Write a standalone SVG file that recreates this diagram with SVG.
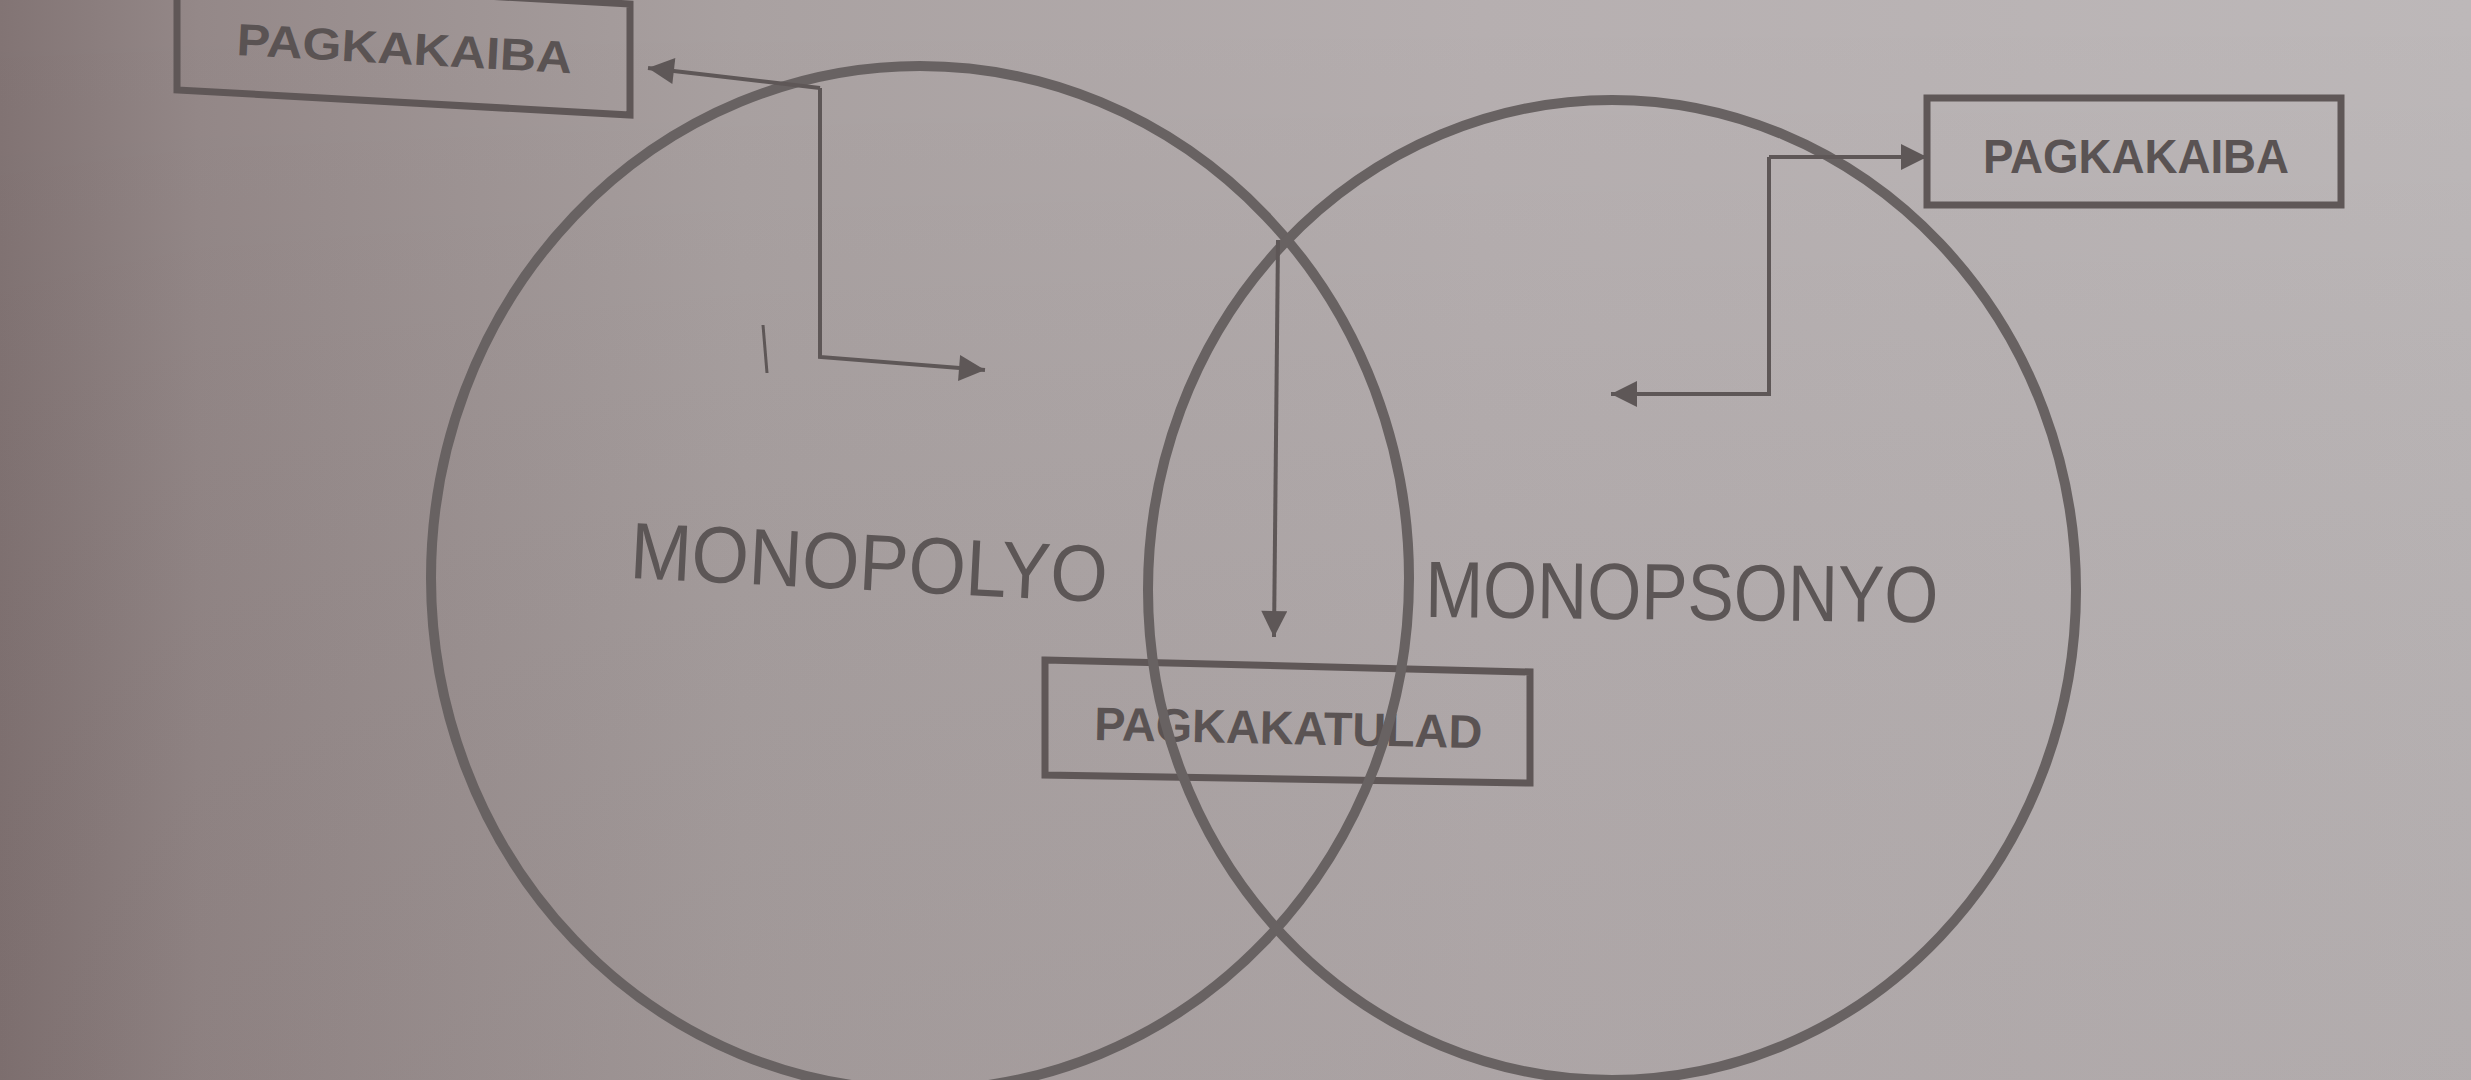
<svg xmlns="http://www.w3.org/2000/svg" width="2471" height="1080" viewBox="0 0 2471 1080">
<defs>
<linearGradient id="paper" x1="0" y1="0" x2="1" y2="0">
<stop offset="0" stop-color="#827474"/>
<stop offset="0.08" stop-color="#948888"/>
<stop offset="0.3" stop-color="#a9a1a1"/>
<stop offset="0.6" stop-color="#b6afb0"/>
<stop offset="1" stop-color="#bdb8b9"/>
</linearGradient>
<linearGradient id="shade" x1="0" y1="0" x2="0" y2="1">
<stop offset="0" stop-color="#000" stop-opacity="0"/>
<stop offset="1" stop-color="#3a2a2a" stop-opacity="0.08"/>
</linearGradient>
<marker id="arr" viewBox="0 0 10 10" refX="10" refY="5" markerWidth="28" markerHeight="26" markerUnits="userSpaceOnUse" orient="auto">
<path d="M0,0 L10,5 L0,10 z" fill="#5e5757"/>
</marker>
<style>
.box{fill:none;stroke:#5f5757;stroke-width:7;stroke-linejoin:miter}
.lbl{font-family:"Liberation Sans",Arial,sans-serif;font-weight:bold;fill:#5a5353}
.big{font-family:"Liberation Sans",Arial,sans-serif;font-weight:normal;fill:#5c5656;font-size:80px}
.ring{fill:none;stroke:#686262;stroke-width:10}
.conn{fill:none;stroke:#5e5757;stroke-width:4}
</style>
</defs>
<rect width="2471" height="1080" fill="url(#paper)"/>
<rect width="2471" height="1080" fill="url(#shade)"/>

<g id="node-pagkakaiba-left">
<path class="box" d="M177,-21 L630,4 L630,115 L177,90 Z"/>
<text class="lbl" x="236" y="55" font-size="45" textLength="336" lengthAdjust="spacingAndGlyphs" transform="rotate(3.1 236 55)">PAGKAKAIBA</text>
</g>

<g id="node-pagkakaiba-right">
<rect class="box" x="1927" y="98" width="414" height="107"/>
<text class="lbl" x="1983" y="173" font-size="48" textLength="306" lengthAdjust="spacingAndGlyphs">PAGKAKAIBA</text>
</g>

<g id="node-pagkakatulad">
<path class="box" d="M1045,660 L1530,672 L1530,783 L1045,775 Z"/>
<text class="lbl" x="1094" y="740" font-size="47" textLength="388" lengthAdjust="spacingAndGlyphs" transform="rotate(1.2 1094 740)">PAGKAKATULAD</text>
</g>

<g id="node-monopolyo">
<ellipse class="ring" cx="920" cy="578" rx="489" ry="512"/>
<text class="big" x="629" y="578" textLength="478" lengthAdjust="spacingAndGlyphs" transform="rotate(2.9 629 578)">MONOPOLYO</text>
</g>

<g id="node-monopsonyo">
<ellipse class="ring" cx="1612" cy="590" rx="464" ry="490"/>
<text class="big" x="1425" y="617" textLength="513" lengthAdjust="spacingAndGlyphs" transform="rotate(0.6 1425 617)">MONOPSONYO</text>
</g>

<g id="connectors">
<path class="conn" d="M820,88 L648,68" marker-end="url(#arr)"/>
<path class="conn" d="M820,88 L820,357 L985,370" marker-end="url(#arr)"/>
<path class="conn" d="M1278,240 L1274,637" marker-end="url(#arr)"/>
<path class="conn" d="M1769,157 L1927,157" marker-end="url(#arr)"/>
<path class="conn" d="M1769,157 L1769,394 L1611,394" marker-end="url(#arr)"/>
<path d="M763,325 L767,373" fill="none" stroke="#5e5757" stroke-width="3"/>
</g>
</svg>
